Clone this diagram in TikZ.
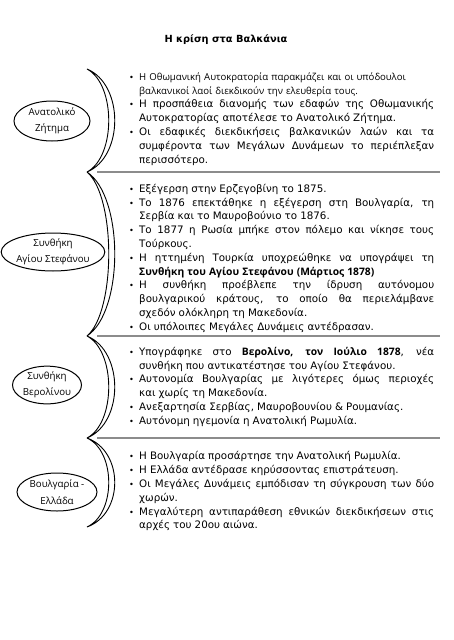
\documentclass[tikz,border=0pt]{standalone}
\usepackage{fontspec}
\setmainfont{DejaVu Sans}
\newfontfamily\topicfont{Open Sans}
\usetikzlibrary{shapes.geometric}

% bullet with hanging indent for the text boxes
\newcommand{\bul}{\par\noindent\hangindent=10pt\hangafter=1\makebox[10pt][l]{\scalebox{0.8}{\textbullet}}\strut}
\newcommand{\loose}{\spaceskip=.3em plus 2em minus .1em\tolerance=9999\hbadness=10000}
\newcommand{\keyterm}[1]{{\topicfont\bfseries #1}}

\begin{document}
\begin{tikzpicture}[
  x=1pt, y=-1pt,
  topic/.style={ellipse, draw, line width=1pt, inner sep=0pt, align=center, font=\topicfont\fontsize{9.7}{16.5}\selectfont},
  items/.style={anchor=north west, inner sep=0pt, text width=305pt, align=justify, font=\fontsize{10.3}{13.8}\selectfont},
  band/.style={draw=black, fill=white, line width=0.9pt, line join=miter},
  sepline/.style={draw=black!45, line width=1.3pt}
]
\useasboundingbox (0,0) rectangle (453,640);

% Title
\node (title) at (226,40) {\fontsize{9.8}{12}\selectfont\bfseries Η κρίση στα Βαλκάνια};

% Separators
\foreach \y in {172,336,438}
  \draw[sepline] (97,\y) -- (440,\y);

% Brackets
\foreach \ya/\yb in {69/172,172/336,336/438,438/527}{
  \pgfmathsetmacro{\bend}{0.15*(\yb-\ya)}
  \draw[band] (87,\ya) .. controls (124,\ya+\bend) and (124,\yb-\bend) .. (87,\yb)
    .. controls (116,\yb-\bend) and (116,\ya+\bend) .. cycle;
}

% Topics
\node[topic, minimum width=76pt, minimum height=40pt] (anatoliko) at (52,121) {Ανατολικό\\Ζήτημα};
\node[topic, minimum width=87pt, minimum height=38pt] (stefanos) at (53,252) {Συνθήκη\\Αγίου Στεφάνου};
\node[topic, minimum width=69pt, minimum height=36pt] (berolino) at (47,385) {Συνθήκη\\Βερολίνου};
\node[topic, minimum width=80pt, minimum height=38pt] (voulgaria) at (57,492) {Βουλγαρία -\\Ελλάδα};

% Texts
\node[items] (sec1) at (129,66.3) {\loose
  \bul {\topicfont\fontsize{9.6}{13.8}\selectfont Η Οθωμανική Αυτοκρατορία παρακμάζει και οι υπόδουλοι\\ βαλκανικοί λαοί διεκδικούν την ελευθερία τους.}
  \bul Η προσπάθεια διανομής των εδαφών της Οθωμανικής\linebreak Αυτοκρατορίας αποτέλεσε το Ανατολικό Ζήτημα.
  \bul Οι εδαφικές διεκδικήσεις βαλκανικών λαών και τα\linebreak συμφέροντα των Μεγάλων Δυνάμεων το περιέπλεξαν\linebreak περισσότερο.\par};

\node[items] (sec2) at (129,178.3) {\loose
  \bul Εξέγερση στην Ερζεγοβίνη το 1875.
  \bul Το 1876 επεκτάθηκε η εξέγερση στη Βουλγαρία, τη\linebreak Σερβία και το Μαυροβούνιο το 1876.
  \bul Το 1877 η Ρωσία μπήκε στον πόλεμο και νίκησε τους\linebreak Τούρκους.
  \bul Η ηττημένη Τουρκία υποχρεώθηκε να υπογράψει τη\linebreak \keyterm{Συνθήκη του Αγίου Στεφάνου (Μάρτιος 1878)}
  \bul Η συνθήκη προέβλεπε την ίδρυση αυτόνομου\linebreak βουλγαρικού κράτους, το οποίο θα περιελάμβανε\linebreak σχεδόν ολόκληρη τη Μακεδονία.
  \bul Οι υπόλοιπες Μεγάλες Δυνάμεις αντέδρασαν.\par};

\node[items] (sec3) at (129,341.3) {\loose
  \bul Υπογράφηκε στο \keyterm{Βερολίνο, τον Ιούλιο 1878}, νέα\linebreak συνθήκη που αντικατέστησε του Αγίου Στεφάνου.
  \bul Αυτονομία Βουλγαρίας με λιγότερες όμως περιοχές\linebreak και χωρίς τη Μακεδονία.
  \bul Ανεξαρτησία Σερβίας, Μαυροβουνίου \& Ρουμανίας.
  \bul Αυτόνομη ηγεμονία η Ανατολική Ρωμυλία.\par};

\node[items] (sec4) at (129,445.8) {\loose
  \bul Η Βουλγαρία προσάρτησε την Ανατολική Ρωμυλία.
  \bul Η Ελλάδα αντέδρασε κηρύσσοντας επιστράτευση.
  \bul Οι Μεγάλες Δυνάμεις εμπόδισαν τη σύγκρουση των δύο\linebreak χωρών.
  \bul Μεγαλύτερη αντιπαράθεση εθνικών διεκδικήσεων στις\linebreak αρχές του 20ου αιώνα.\par};

\end{tikzpicture}
\end{document}
